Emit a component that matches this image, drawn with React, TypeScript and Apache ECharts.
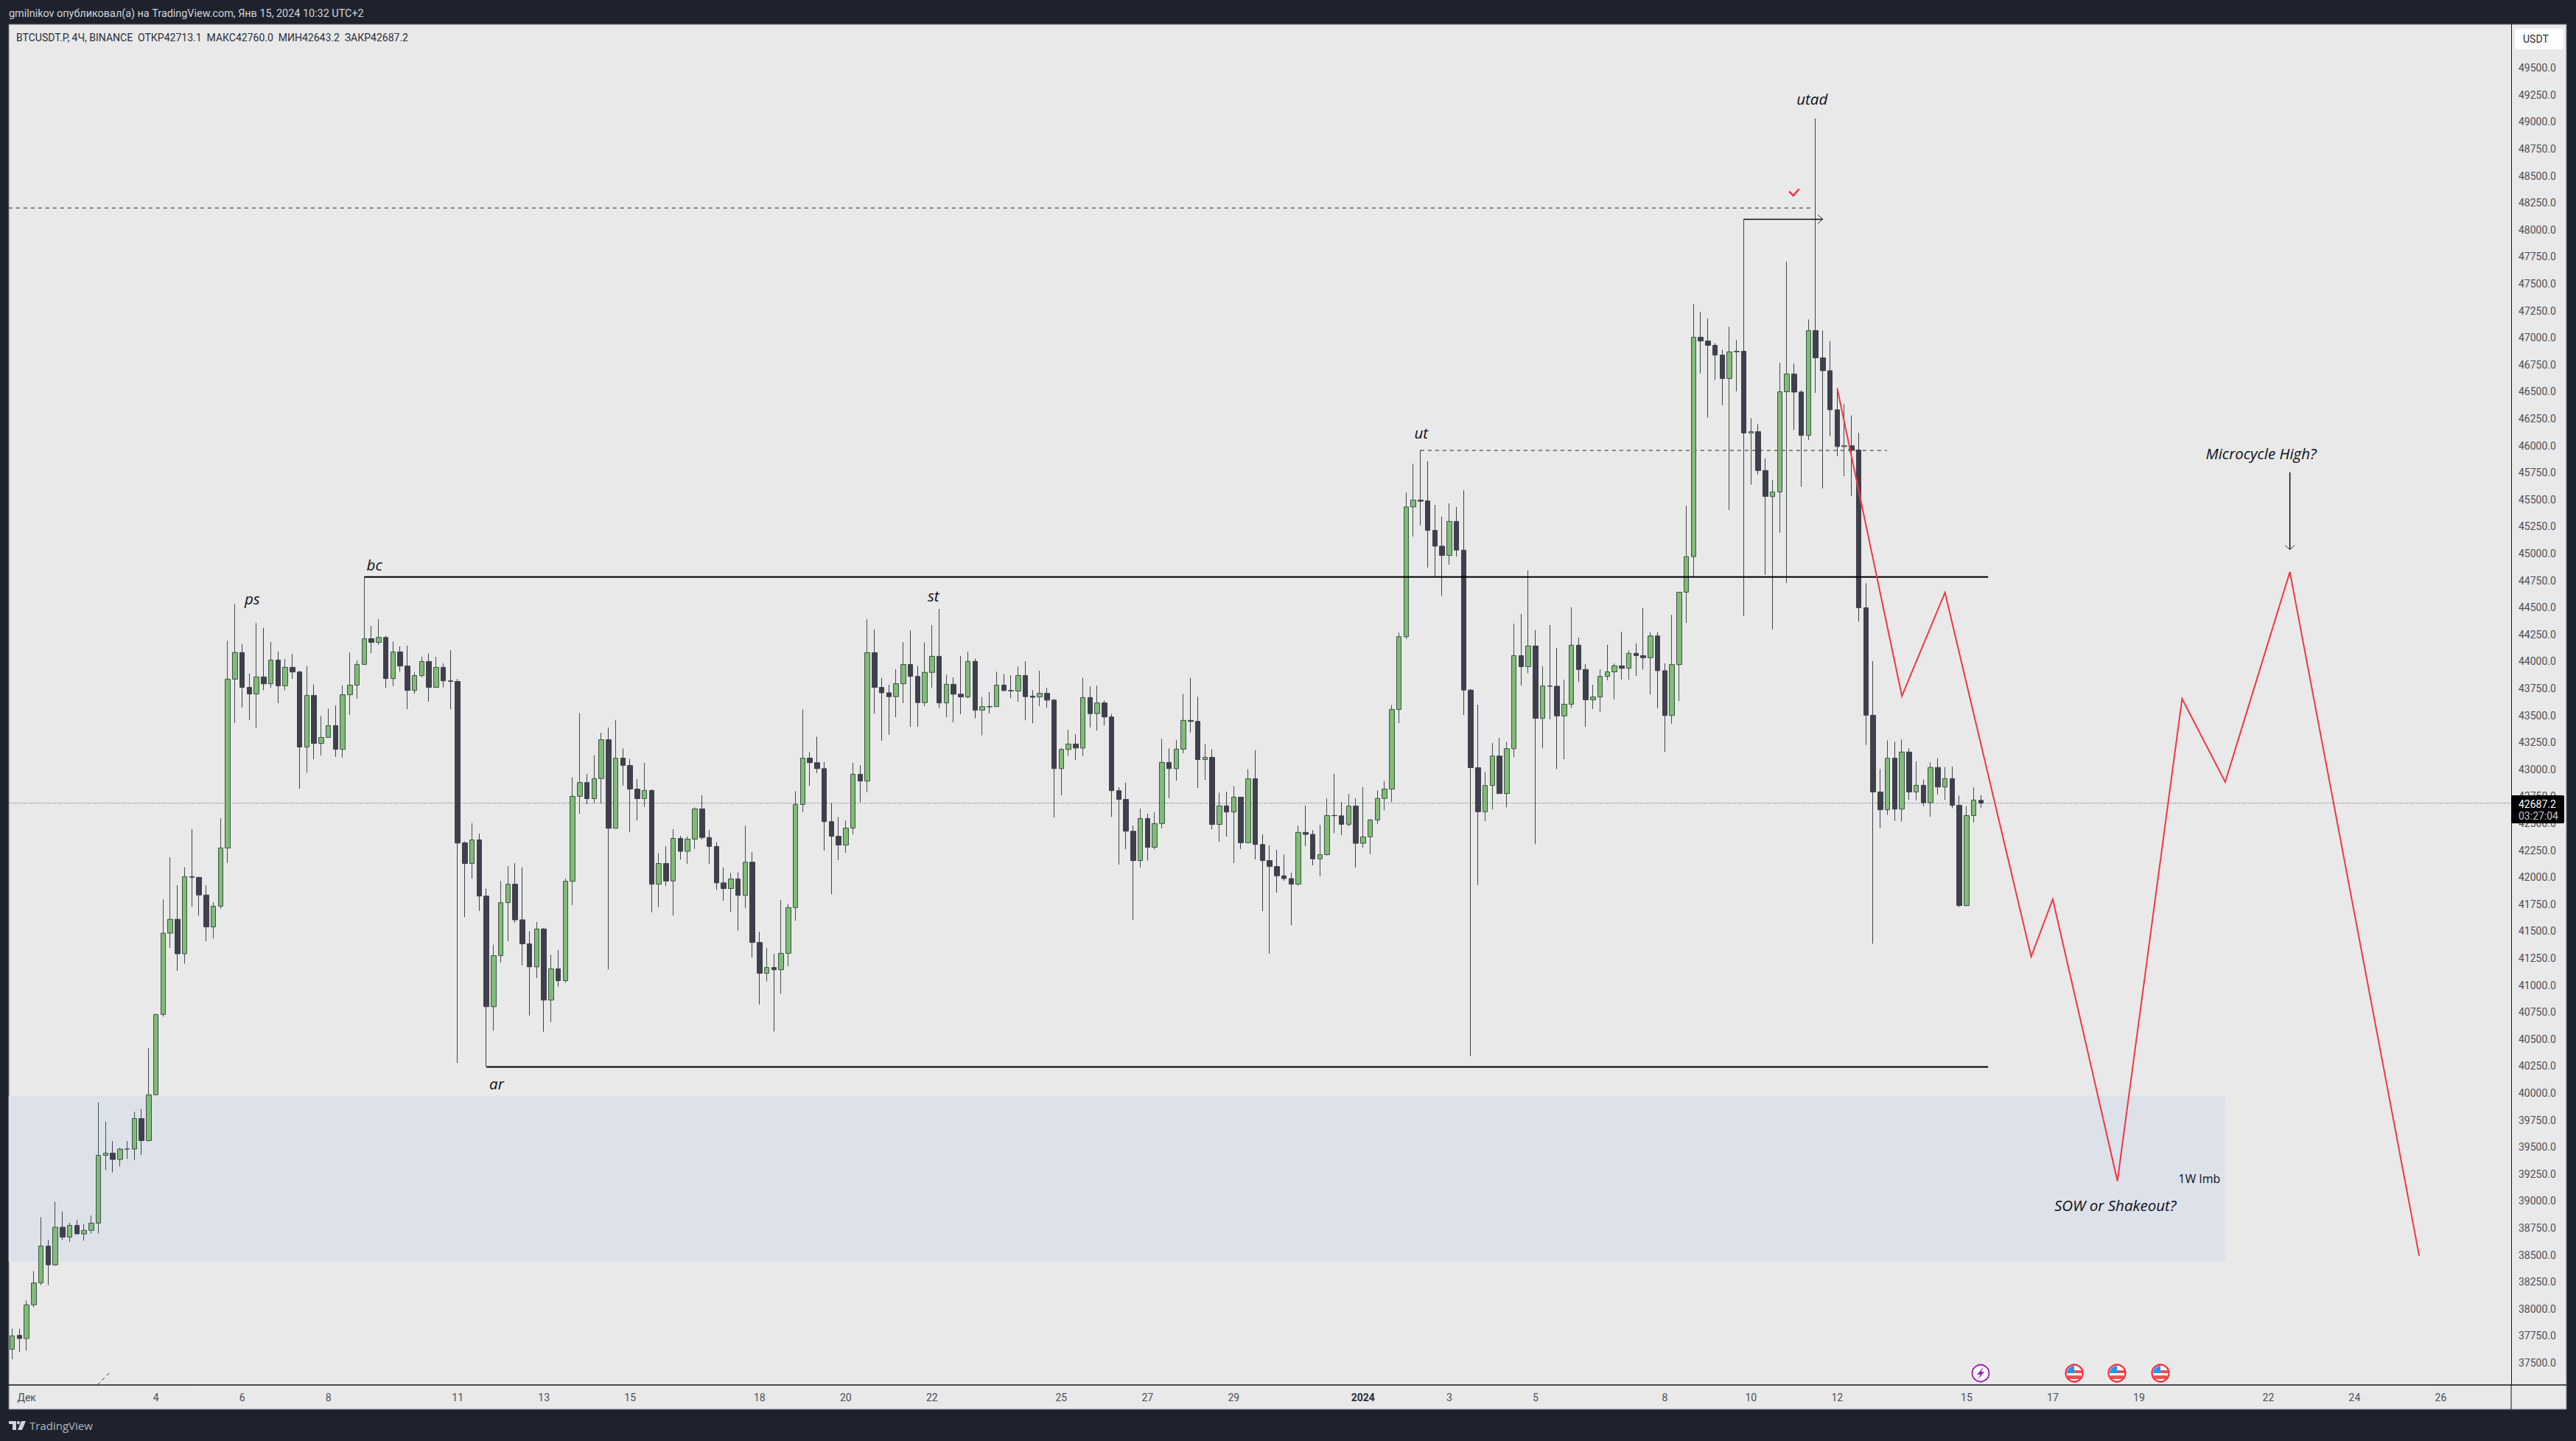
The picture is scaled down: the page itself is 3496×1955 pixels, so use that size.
import React, { useEffect, useRef } from "react";
import * as echarts from "echarts";

const candleOpen = [
37626,37755,37726,38038,38241,38582,38408,38757,38666,38774,
38695,38728,38795,39423,39444,39385,39481,39481,39764,39560,
39984,40729,41482,41611,41291,42006,42000,41836,41540,41732,
42271,43836,44083,43760,43699,43857,43793,44013,43775,43946,
43903,43207,43686,43241,43296,43406,43186,43692,43781,43973,
44211,44177,44223,43842,44089,43958,43732,43869,44000,43760,
43946,43821,43815,42320,42128,42347,41826,40801,41274,41765,
41936,41606,41384,41170,41521,40862,41152,41042,41963,42750,
42878,42729,42915,43275,42454,43104,43037,42817,42729,42805,
41936,42128,41966,42360,42241,42354,42634,42369,42286,41948,
41896,41985,41832,42140,41396,41110,41164,41143,41295,41719,
42675,43104,43062,43007,42516,42380,42299,42456,42955,42892,
44082,43760,43710,43674,43794,43972,43862,43619,43899,44048,
43616,43789,43697,43671,44001,43548,43582,43582,43781,43731,
43726,43870,43679,43671,43705,43642,43007,43185,43235,43198,
43666,43517,43616,43486,42803,42722,42427,42155,42545,42278,
42498,43065,43007,43188,43454,43445,43091,43112,42490,42662,
42605,42743,42320,42913,42304,42155,42100,42014,41988,41936,
42416,42398,42171,42210,42573,42570,42491,42660,42315,42375,
42532,42731,42817,43555,44230,45432,45496,45489,45215,45069,
44983,45298,45032,43735,43016,42607,42851,43124,42776,43192,
44054,43952,44144,43473,43773,43771,43495,43604,44151,43926,
43645,43671,43862,43904,43960,43937,44076,44054,44035,44237,
43915,43499,43971,44642,44972,47005,46970,46930,46840,46622,
46870,46875,46117,46130,45770,45528,45571,46500,46665,46497,
46095,47067,46814,46695,46333,45992,45999,45960,44498,43502,
42791,42626,43104,42632,43161,42791,42853,42691,43018,42837,
42915,42667,41738,42572,42713.1];

const candleClose = [
37750,37726,38038,38241,38582,38408,38757,38666,38774,38695,
38728,38795,39423,39444,39385,39481,39482,39764,39560,39984,
40729,41482,41611,41291,42006,42000,41836,41540,41732,42272,
43836,44083,43760,43699,43857,43793,44013,43775,43946,43903,
43207,43686,43241,43296,43406,43186,43692,43781,43973,44211,
44177,44223,43842,44089,43958,43732,43869,44000,43760,43946,
43821,43815,42317,42128,42347,41826,40801,41274,41765,41936,
41606,41384,41170,41521,40862,41152,41042,41963,42750,42878,
42729,42915,43275,42454,43104,43037,42817,42729,42805,41936,
42128,41966,42360,42241,42354,42634,42369,42286,41948,41896,
41985,41832,42140,41396,41110,41164,41143,41295,41719,42675,
43104,43062,43007,42516,42380,42299,42456,42955,42892,44082,
43760,43710,43674,43794,43972,43862,43619,43899,44048,43616,
43789,43697,43671,44001,43548,43582,43580,43781,43731,43728,
43870,43674,43669,43705,43642,43007,43185,43235,43198,43666,
43517,43616,43486,42803,42722,42427,42155,42545,42278,42498,
43065,43007,43188,43454,43445,43091,43112,42490,42662,42605,
42743,42320,42913,42304,42155,42100,42014,41988,41936,42416,
42398,42171,42210,42573,42571,42491,42660,42315,42375,42532,
42731,42817,43555,44230,45432,45496,45485,45215,45069,44983,
45298,45032,43735,43016,42607,42851,43124,42776,43192,44054,
43952,44144,43473,43773,43771,43495,43604,44151,43926,43645,
43671,43862,43904,43960,43937,44076,44054,44035,44237,43915,
43499,43971,44642,44972,47005,46970,46930,46840,46622,46870,
46875,46117,46130,45770,45530,45571,46500,46665,46497,46095,
47067,46814,46695,46333,45992,45999,45957,44498,43502,42791,
42626,43104,42632,43161,42791,42853,42691,43018,42837,42915,
42667,41738,42572,42716,42687.2];

const candleLow = [
37534,37601,37613,38017,38220,38220,38400,38640,38620,38695,
38632,38699,38699,39286,39265,39319,39390,39381,39427,39552,
39984,40708,41345,41133,41199,41727,41644,41407,41432,41707,
42134,43430,43574,43458,43384,43735,43757,43613,43732,43839,
42820,42970,43095,43128,43296,43116,43110,43506,43653,43973,
44077,44153,43757,43772,43906,43558,43702,43851,43628,43760,
43760,43558,40280,41631,41987,41689,40243,40578,41210,41408,
41579,41185,40719,41066,40569,40658,40987,41021,41743,42588,
42677,42689,42683,41146,42454,42851,42417,42527,42652,41676,
41722,41920,41646,42164,42125,42262,42350,42125,41884,41783,
41680,41506,41713,41256,40822,41034,40570,40921,41175,41598,
42602,42848,42965,42247,41844,42158,42226,42398,42696,42788,
43517,43266,43321,43483,43614,43394,43394,43585,43757,43569,
43483,43436,43512,43658,43473,43316,43517,43582,43723,43661,
43627,43457,43428,43585,43572,42555,42759,43125,43088,43125,
43389,43360,43407,42560,42118,42262,41606,42092,42155,42257,
42453,42733,42895,43148,43342,42827,42903,42445,42330,42377,
42132,42262,42320,42165,41687,41292,41857,41967,41557,41922,
42288,42111,42009,42203,42409,42390,42472,42090,42274,42214,
42495,42622,42697,43428,44207,45159,45260,44870,44784,44608,
44897,44972,43503,40344,41929,42521,42630,42776,42648,43113,
43776,43892,42307,43196,43465,43004,43094,43570,43810,43394,
43559,43533,43825,43649,43832,43832,43866,43926,43694,43566,
43162,43424,43634,44357,44784,46670,46260,46611,46376,45404,
46503,44421,45639,45733,44803,44297,45193,44728,46146,45620,
46052,46489,45603,46087,45903,45717,45533,44369,43226,41384,
42456,42578,42524,42516,42718,42713,42659,42562,42767,42718,
42640,41724,41730,42508,42643.2];

const candleHigh = [
37817,37817,38079,38350,38849,38640,38994,38903,38799,38824,
38786,38865,39914,39735,39556,39494,39556,39826,39855,40417,
40729,41794,42185,41927,42094,42447,42000,41927,41769,42547,
44193,44534,44162,43888,44357,44312,44180,44092,44022,44071,
43915,43958,43787,43497,43564,43592,43778,44083,44010,44784,
44330,44391,44238,44187,44141,44147,43900,44046,44074,44043,
43982,44104,43839,42332,42500,42405,41896,41377,41966,42103,
42131,42091,41500,41585,41530,41283,41326,41988,42927,43522,
42957,43131,43339,43387,43458,43195,43098,42909,43061,42814,
42225,42286,42448,42384,42378,42649,42759,42439,42326,42091,
42042,42045,42479,42232,41496,41345,41290,41789,41753,42798,
43556,43159,43303,43070,42691,42558,42526,43060,43039,44390,
44296,43849,43784,43927,44178,44288,43959,44178,44338,44487,
43880,43852,44050,44092,44027,43671,43716,43906,43883,43873,
43954,44001,43734,43914,43757,43653,43198,43368,43326,43849,
43768,43776,43640,43514,42835,42877,42479,42636,42589,42602,
43284,43195,43271,43700,43849,43674,43237,43188,42785,42793,
42845,42743,43002,43177,42398,42296,42254,42210,42043,42479,
42665,42437,42487,42731,42959,42697,42772,42731,42836,42540,
42806,42892,43596,44267,45567,45833,45957,45856,45451,45343,
45466,45432,45586,43746,43600,42978,43244,43293,43255,44350,
44440,44844,44290,43956,44338,44125,43832,44503,44222,43975,
43784,43926,44155,43982,44275,44102,44166,44496,44271,44271,
43982,44432,44642,45444,47313,47240,47178,46951,46889,47102,
46981,48099,46254,46200,45882,45684,46768,47705,46760,46514,
47170,49031,47067,46970,46535,46384,46281,46119,44725,44004,
43005,43269,43256,43277,43196,43075,42905,43064,43102,43021,
43026,42756,42659,42832,42760];

const priceTicks = [37500,37750,38000,38250,38500,38750,39000,39250,39500,39750,40000,40250,40500,40750,41000,41250,41500,41750,42000,42250,42500,42750,43000,43250,43500,43750,44000,44250,44500,44750,45000,45250,45500,45750,46000,46250,46500,46750,47000,47250,47500,47750,48000,48250,48500,48750,49000,49250,49500];
const dateTickIndex = [2,20,32,44,62,74,86,104,116,128,146,158,170,188,200,212,230,242,254,272,284,296,314,326,338];
const dateTickLabels = ["Дек","4","6","8","11","13","15","18","20","22","25","27","29","2024","3","5","8","10","12","15","17","19","22","24","26"];

const lastPrice = 42687.2;
const resistanceLine = [[49, 44784], [275, 44784]];
const supportLine = [[66, 40243], [275, 40243]];
const topDashed = [[-0.5, 48203], [250.6, 48203]];
const utDashed = [[196, 45956], [260.9, 45956]];
const rangeArrow = [[241, 48099], [252, 48099]];
const rangeArrowHead = [[251.3, 48140], [252, 48099], [251.3, 48058]];
const highArrow = [[317, 45754], [317, 45037]];
const highArrowHead = [[316.33, 45078], [317, 45037], [317.67, 45078]];
const projection = [[254, 46530], [263, 43680], [269, 44639], [281, 41265], [284, 41797], [293, 39185], [302, 43655], [308, 42883], [317, 44830], [335, 38491]];
const checkMark = [[247.3, 48356], [247.9, 48318], [248.7, 48380]];
const imbalanceZone = { fromIndex: -0.5, toIndex: 308, low: 38436, high: 39973 };
const noteLabels: [string, number, number, boolean][] = [
  ["ps", 33.4, 44587, true],
  ["bc", 50.4, 44901, true],
  ["st", 128.2, 44614, true],
  ["ar", 67.4, 40092, true],
  ["utad", 250.5, 49215, true],
  ["ut", 196.1, 46121, true],
  ["Microcycle High?", 313, 45930, true],
  ["SOW or Shakeout?", 292.7, 38965, true],
  ["1W Imb", 304.4, 39208, false],
];

const W = 3496, H = 1955;
const FONT = "Roboto, sans-serif";
const NOTE_FONT = "'Open Sans', sans-serif";
const DARK = "#3e414c";
const GREEN = "#7fbc75";
const RED = "#f23645";

function lineSeries(data: number[][], color: string, width: number, type: any = "solid", z = 4) {
  return {
    type: "line", data, symbol: "none", silent: true, z, animation: false,
    lineStyle: { color, width, type, cap: "butt", join: "miter" },
  };
}

function flagIcon(cx: number, cy: number) {
  return {
    type: "group", x: cx, y: cy, z: 8, silent: true,
    children: [
      { type: "circle", shape: { r: 13.5 }, style: { fill: "#ffffff" } },
      { type: "circle", shape: { r: 10 }, style: { fill: "#ffffff" } },
      { type: "rect", shape: { x: 0, y: -4, width: 10, height: 4 }, style: { fill: "#ef5350" } },
      { type: "rect", shape: { x: -9, y: 3, width: 18, height: 5 }, style: { fill: "#ef5350" } },
      { type: "sector", shape: { r: 10, startAngle: Math.PI, endAngle: Math.PI * 1.5 }, style: { fill: "#2196f3" } },
      { type: "rect", shape: { x: -8, y: -6, width: 8, height: 6 }, style: { fill: "#2196f3" } },
      { type: "circle", shape: { r: 11.5 }, style: { fill: "none", stroke: RED, lineWidth: 2.5 } },
    ],
  };
}

export default function App() {
  const ref = useRef<HTMLDivElement>(null);
  useEffect(() => {
    document.body.style.margin = "0";
    document.body.style.overflow = "hidden";
    const chart = echarts.init(ref.current!, undefined, { renderer: "svg", width: W, height: H });
    const candles = candleOpen.map((o, i) => [i, o, candleClose[i], candleLow[i], candleHigh[i]]);
    const priceMin = 37295, priceMax = 49905;
    chart.setOption({
      animation: false,
      backgroundColor: "#1e222d",
      textStyle: { fontFamily: FONT },
      grid: { left: 11.8, top: 33, width: 3396.2, height: 1846 },
      xAxis: {
        type: "value", min: -0.5, max: 347.8, scale: true,
        splitLine: { show: false },
        axisLine: { show: true, onZero: false, lineStyle: { color: "#131722", width: 1.5 } },
        axisTick: { show: false },
        axisLabel: {
          customValues: dateTickIndex, margin: 10, color: "#4a4e59", fontSize: 14, fontFamily: FONT,
          hideOverlap: false,
          formatter: (v: number) => {
            const t = dateTickLabels[dateTickIndex.indexOf(v)];
            return t === "2024" ? "{b|2024}" : t;
          },
          rich: { b: { fontWeight: "bold", fontSize: 14, color: "#2a2e39", fontFamily: FONT } },
        },
      },
      yAxis: {
        type: "value", position: "right", min: priceMin, max: priceMax, scale: true,
        splitLine: { show: false },
        axisLine: { show: true, onZero: false, lineStyle: { color: "#131722", width: 1 } },
        axisTick: { show: false },
        axisLabel: {
          customValues: priceTicks, margin: 10, color: "#4a4e59", fontSize: 14, fontFamily: FONT,
          formatter: (v: number) => v.toFixed(1),
        },
      },
      series: [
        {
          ...lineSeries([[-0.5, lastPrice], [347.8, lastPrice]], "#4a4e59", 1, [1, 2], 1),
          markArea: {
            silent: true, z: 0,
            itemStyle: { color: "#dde1ea" },
            data: [[
              { xAxis: imbalanceZone.fromIndex, yAxis: imbalanceZone.high },
              { xAxis: imbalanceZone.toIndex, yAxis: imbalanceZone.low },
            ]],
          },
        },
        lineSeries(topDashed, "#222222", 1, [5, 5], 2),
        lineSeries(utDashed, "#222222", 1, [5, 5], 2),
        {
          type: "candlestick", z: 3, barWidth: 7, data: candles, encode: { x: 0, y: [1, 2, 3, 4] },
          silent: true,
          itemStyle: {
            color: GREEN, color0: DARK, borderColor: "#3f5147", borderColor0: DARK,
            borderColorDoji: DARK, borderWidth: 1,
          },
        },
        lineSeries(resistanceLine, "#000000", 2),
        lineSeries(supportLine, "#000000", 2),
        lineSeries(rangeArrow, "#111111", 1.5),
        lineSeries(rangeArrowHead, "#333333", 1),
        lineSeries(highArrow, "#111111", 1.5),
        lineSeries(highArrowHead, "#333333", 1),
        { ...lineSeries(projection, RED, 2, "solid", 5), z: 5 },
        lineSeries(checkMark, RED, 2.5, "solid", 5),
        {
          type: "scatter", z: 6, silent: true, symbolSize: 1, itemStyle: { color: "transparent" },
          data: noteLabels.map(([name, x, y, italic]) => ({
            name, value: [x, y],
            label: {
              show: true, position: "inside", formatter: "{b}", color: "#0c0f16",
              fontFamily: NOTE_FONT, fontSize: italic ? 20.5 : 16,
              fontStyle: italic ? "italic" : "normal", fontWeight: italic ? 500 : "normal", opacity: 1,
            },
          })),
        },
      ],
      graphic: [
        { type: "rect", z: -1, silent: true, shape: { x: 12, y: 33, width: 3471, height: 1879 }, style: { fill: "#e9e9e9", stroke: "#787b86", lineWidth: 1 } },
        { type: "line", z: 7, silent: true, shape: { x1: 3408, y1: 1879, x2: 3408, y2: 1912 }, style: { stroke: "#131722", lineWidth: 1 } },
        { type: "line", z: 7, silent: true, shape: { x1: 3408, y1: 1879, x2: 3483, y2: 1879 }, style: { stroke: "#131722", lineWidth: 1.5 } },
        { type: "line", z: 7, silent: true, shape: { x1: 132, y1: 1879, x2: 151, y2: 1860 }, style: { stroke: "#333333", lineWidth: 1, lineDash: [5, 4] } },
        { type: "text", z: 8, silent: true, style: { x: 12, y: 18, text: "gmilnikov опубликовал(а) на TradingView.com, Янв 15, 2024 10:32 UTC+2", fill: "#d1d4dc", font: `14.4px ${FONT}`, verticalAlign: "middle" } },
        { type: "text", z: 8, silent: true, style: { x: 22, y: 51, text: "BTCUSDT.P, 4Ч, BINANCE  ОТКР42713.1  МАКС42760.0  МИН42643.2  ЗАКР42687.2", fill: "#2a2e39", font: `14px ${FONT}`, verticalAlign: "middle" } },
        { type: "rect", z: 8, silent: true, shape: { x: 3413, y: 39, width: 66, height: 28, r: 4 }, style: { fill: "#ffffff" } },
        { type: "text", z: 9, silent: true, style: { x: 3424, y: 53, text: "USDT", fill: "#2a2e39", font: `14px ${FONT}`, verticalAlign: "middle" } },
        { type: "rect", z: 8, silent: true, shape: { x: 3408, y: 1079, width: 72, height: 38, r: 2 }, style: { fill: "#000000" } },
        { type: "text", z: 9, silent: true, style: { x: 3418, y: 1091, text: "42687.2", fill: "#ffffff", font: `14px ${FONT}`, verticalAlign: "middle" } },
        { type: "text", z: 9, silent: true, style: { x: 3418, y: 1107, text: "03:27:04", fill: "#c8c8c8", font: `14px ${FONT}`, verticalAlign: "middle" } },
        { type: "polygon", z: 8, silent: true, shape: { points: [[12, 1928], [22, 1928], [22, 1940], [17, 1940], [17, 1932], [12, 1932]] }, style: { fill: "#d1d4dc" } },
        { type: "circle", z: 8, silent: true, shape: { cx: 25, cy: 1930.2, r: 2.2 }, style: { fill: "#d1d4dc" } },
        { type: "polygon", z: 8, silent: true, shape: { points: [[29, 1928], [35, 1928], [30, 1940], [24, 1940]] }, style: { fill: "#d1d4dc" } },
        { type: "text", z: 8, silent: true, style: { x: 40, y: 1934, text: "TradingView", fill: "#b2b5be", font: `15px 'Open Sans', sans-serif`, verticalAlign: "middle" } },
        { type: "circle", z: 8, silent: true, shape: { cx: 2688, cy: 1863, r: 13.5 }, style: { fill: "#ffffff" } },
        { type: "circle", z: 8, silent: true, shape: { cx: 2688, cy: 1863, r: 11.5 }, style: { fill: "#ffffff", stroke: "#9c27b0", lineWidth: 2 } },
        { type: "polygon", z: 9, silent: true, shape: { points: [[2692, 1854], [2683, 1865], [2687.5, 1865], [2684, 1872], [2693, 1861], [2688.5, 1861]] }, style: { fill: "#9c27b0" } },
        flagIcon(2815, 1863), flagIcon(2873, 1863), flagIcon(2932, 1863),
      ],
    });
    return () => chart.dispose();
  }, []);
  return <div ref={ref} style={{ position: "absolute", left: 0, top: 0, width: W, height: H }} />;
}
